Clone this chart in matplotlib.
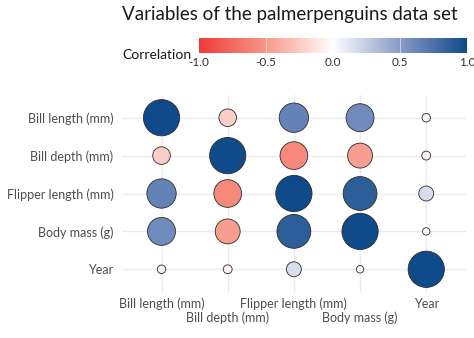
import numpy as np
import matplotlib
matplotlib.use("Agg")
import matplotlib.pyplot as plt
from matplotlib.colors import LinearSegmentedColormap

plt.rcParams['font.family'] = ['Lato', 'DejaVu Sans']

# variables and their correlation matrix (palmerpenguins)
variables = ["Bill length (mm)", "Bill depth (mm)", "Flipper length (mm)", "Body mass (g)", "Year"]
corr = [
    [1.000, -0.235, 0.656, 0.595, 0.055],
    [-0.235, 1.000, -0.584, -0.472, -0.060],
    [0.656, -0.584, 1.000, 0.871, 0.170],
    [0.595, -0.472, 0.871, 1.000, 0.042],
    [0.055, -0.060, 0.170, 0.042, 1.000],
]
cbar_ticks = [-1.0, -0.5, 0.0, 0.5, 1.0]

cmap = LinearSegmentedColormap.from_list(
    "rwb", [(0, "#ef3b36"), (0.25, "#f7998a"), (0.5, "#ffffff"),
            (0.75, "#8a9bc8"), (1, "#0f4a8a")])
text_col = "#4d4d4d"

fig = plt.figure(figsize=(4.74, 3.38), dpi=100)
ax = fig.add_axes([0.257, 0.136, 0.726, 0.583])

n = len(variables)
corr = np.array(corr)
xs, ys, vals = [], [], []
for i in range(n):
    for j in range(n):
        xs.append(j + 1)
        ys.append(n - i)
        vals.append(corr[i, j])
vals = np.array(vals)

ax.scatter(xs, ys, s=np.abs(vals) * 680, c=vals, cmap=cmap, vmin=-1, vmax=1,
           edgecolors="#2b2b2b", linewidths=0.6, zorder=3)

ax.set_xlim(0.4, n + 0.6)
ax.set_ylim(0.4, n + 0.6)
ax.set_xticks(range(1, n + 1))
ax.set_xticklabels([])
ax.set_yticks(range(1, n + 1))
ax.set_yticklabels(variables[::-1], color=text_col, fontsize=9)
ax.tick_params(length=0, pad=6)
for k, lab in enumerate(variables):
    off = -0.06 if k % 2 == 0 else -0.13
    ax.text(k + 1, off, lab, transform=ax.get_xaxis_transform(), ha="center", va="center",
            color=text_col, fontsize=9)
ax.grid(True, color="#ebebeb", linewidth=1, zorder=0)
for sp in ax.spines.values():
    sp.set_visible(False)

fig.text(0.257, 0.957, "Variables of the palmerpenguins data set", fontsize=13.5,
         color="#1a1a1a", ha="left", va="center")

# colour bar
cax = fig.add_axes([0.42, 0.843, 0.565, 0.044])
grad = np.linspace(-1, 1, 256).reshape(1, -1)
cax.imshow(grad, aspect="auto", cmap=cmap, vmin=-1, vmax=1, extent=[-1, 1, 0, 1])
for t in cbar_ticks[1:-1]:
    cax.axvline(t, color="white", linewidth=0.6, alpha=0.6)
cax.set_yticks([])
cax.set_xticks(cbar_ticks)
cax.set_xticklabels([f"{t:.1f}" for t in cbar_ticks], fontsize=8.5, color="#333333")
cax.tick_params(length=0, pad=3)
for sp in cax.spines.values():
    sp.set_visible(False)
fig.text(0.259, 0.837, "Correlation", fontsize=10, color="#1a1a1a", ha="left", va="center")

fig.savefig("out.png", dpi=100, facecolor="white")
